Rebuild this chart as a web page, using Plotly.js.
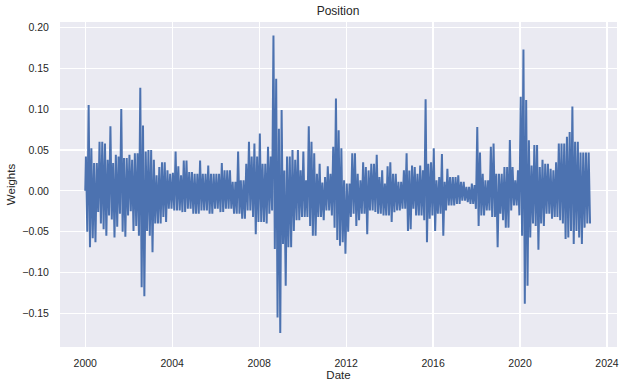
<!DOCTYPE html>
<html><head><meta charset="utf-8">
<script src="https://cdn.plot.ly/plotly-3.0.1.min.js"></script>
<style>html,body{margin:0;padding:0;background:#fff}</style>
</head><body>
<div id="chart" style="width:626px;height:388px"></div>
<script>
// Envelope of the daily position series,
// one high and one low per 1/8 year, starting 2000.0
const startYear = 2000;
const periodsPerYear = 8;
const highs = [
  0.042,0.105,0.052,0.034,0.034,0.060,0.060,0.058, // 2000
  0.038,0.079,0.034,0.044,0.042,0.100,0.040,0.040, // 2001
  0.044,0.038,0.046,0.046,0.126,0.080,0.048,0.050, // 2002
  0.050,0.038,0.019,0.029,0.035,0.035,0.025,0.021, // 2003
  0.022,0.048,0.030,0.019,0.037,0.037,0.023,0.023, // 2004
  0.021,0.021,0.037,0.021,0.021,0.031,0.021,0.021, // 2005
  0.021,0.021,0.034,0.025,0.025,0.025,0.011,0.011, // 2006
  0.048,0.013,0.013,0.033,0.060,0.042,0.058,0.042, // 2007
  0.070,0.033,0.033,0.054,0.042,0.190,0.137,0.076, // 2008
  0.099,0.025,0.042,0.042,0.050,0.038,0.050,0.025, // 2009
  0.048,0.013,0.079,0.060,0.046,0.021,0.033,0.010, // 2010
  0.017,0.030,0.021,0.054,0.113,0.074,0.052,0.013, // 2011
  0.009,0.009,0.046,0.046,0.021,0.013,0.035,0.029, // 2012
  0.025,0.033,0.033,0.044,0.017,0.025,0.009,0.030, // 2013
  0.035,0.021,0.021,0.011,0.011,0.025,0.046,0.025, // 2014
  0.031,0.029,0.021,0.031,0.025,0.112,0.033,0.035, // 2015
  0.052,0.013,0.017,0.045,0.011,0.027,0.017,0.017, // 2016
  0.017,0.019,0.011,0.011,0.005,0.005,0.009,0.007, // 2017
  0.078,0.047,0.021,0.013,0.013,0.054,0.058,0.021, // 2018
  0.021,0.021,0.029,0.029,0.062,0.029,0.013,0.025, // 2019
  0.115,0.173,0.111,0.062,0.031,0.056,0.056,0.029, // 2020
  0.038,0.033,0.033,0.027,0.025,0.035,0.058,0.058, // 2021
  0.058,0.066,0.072,0.103,0.060,0.060,0.047,0.047, // 2022
  0.047,0.047                                      // 2023
];
const lows = [
  -0.050,-0.069,-0.058,-0.063,-0.026,-0.040,-0.047,-0.055, // 2000
  -0.030,-0.035,-0.057,-0.044,-0.028,-0.050,-0.056,-0.030, // 2001
  -0.025,-0.049,-0.043,-0.055,-0.118,-0.129,-0.049,-0.055, // 2002
  -0.075,-0.040,-0.040,-0.040,-0.032,-0.038,-0.022,-0.022, // 2003
  -0.024,-0.024,-0.024,-0.026,-0.026,-0.022,-0.022,-0.028, // 2004
  -0.028,-0.028,-0.024,-0.024,-0.024,-0.028,-0.028,-0.022, // 2005
  -0.022,-0.026,-0.026,-0.022,-0.022,-0.022,-0.028,-0.028, // 2006
  -0.028,-0.034,-0.034,-0.024,-0.024,-0.032,-0.053,-0.038, // 2007
  -0.038,-0.038,-0.040,-0.028,-0.024,-0.071,-0.155,-0.174, // 2008
  -0.065,-0.116,-0.069,-0.069,-0.049,-0.036,-0.036,-0.032, // 2009
  -0.032,-0.032,-0.043,-0.055,-0.055,-0.032,-0.032,-0.036, // 2010
  -0.024,-0.024,-0.030,-0.045,-0.060,-0.067,-0.063,-0.077, // 2011
  -0.050,-0.032,-0.028,-0.043,-0.036,-0.028,-0.028,-0.053, // 2012
  -0.024,-0.024,-0.026,-0.028,-0.028,-0.030,-0.030,-0.030, // 2013
  -0.038,-0.026,-0.024,-0.024,-0.022,-0.022,-0.049,-0.047, // 2014
  -0.022,-0.030,-0.030,-0.030,-0.036,-0.063,-0.034,-0.030, // 2015
  -0.049,-0.028,-0.028,-0.055,-0.024,-0.018,-0.018,-0.018, // 2016
  -0.016,-0.016,-0.012,-0.012,-0.014,-0.016,-0.016,-0.022, // 2017
  -0.043,-0.030,-0.030,-0.024,-0.024,-0.032,-0.032,-0.069, // 2018
  -0.028,-0.036,-0.045,-0.045,-0.024,-0.018,-0.018,-0.030, // 2019
  -0.055,-0.138,-0.116,-0.057,-0.040,-0.043,-0.072,-0.040, // 2020
  -0.043,-0.028,-0.028,-0.034,-0.032,-0.032,-0.036,-0.040, // 2021
  -0.059,-0.057,-0.049,-0.065,-0.049,-0.057,-0.065,-0.045, // 2022
  -0.040,-0.040                                            // 2023
];
const yTickVals = [-0.15,-0.10,-0.05,0.00,0.05,0.10,0.15,0.20];

function toDate(fy){
  const y = Math.floor(fy);
  const a = Date.UTC(y,0,1), b = Date.UTC(y+1,0,1);
  return new Date(a + (fy - y) * (b - a)).toISOString().slice(0,19);
}

const xs = [], ys = [];
xs.push(toDate(startYear)); ys.push(0.0);
for (let k = 0; k < highs.length; k++) {
  const t = startYear + k / periodsPerYear;
  xs.push(toDate(t + 0.25 / periodsPerYear)); ys.push(highs[k]);
  xs.push(toDate(t + 0.75 / periodsPerYear)); ys.push(lows[k]);
}

const txt = '#262626';
const font = 'Liberation Sans, Arial, sans-serif';
Plotly.newPlot('chart', [{
  x: xs, y: ys, type: 'scatter', mode: 'lines',
  line: {color: '#4C72B0', width: 2}, hoverinfo: 'skip'
}], {
  width: 626, height: 388,
  margin: {l: 60, r: 9, t: 22, b: 41},
  paper_bgcolor: '#ffffff', plot_bgcolor: '#EAEAF2',
  font: {family: font, color: txt, size: 10.5},
  showlegend: false,
  title: {text: 'Position', font: {size: 12, color: txt}, x: 0.54, xanchor: 'center', y: 0.971, yanchor: 'middle'},
  xaxis: {
    type: 'date', range: ['1998-11-03', '2024-06-17'],
    tick0: '2000-01-01', dtick: 'M48', tickformat: '%Y',
    showgrid: true, gridcolor: '#ffffff', gridwidth: 1.2,
    zeroline: false, showline: false,
    ticks: 'outside', ticklen: 6, tickcolor: 'rgba(0,0,0,0)',
    tickfont: {size: 10.5, color: txt},
    title: {text: 'Date', font: {size: 11.5, color: txt}, standoff: 2}
  },
  yaxis: {
    range: [-0.191, 0.2065], tickvals: yTickVals, tickformat: '.2f',
    showgrid: true, gridcolor: '#ffffff', gridwidth: 1.2,
    zeroline: false, showline: false,
    ticks: 'outside', ticklen: 8, tickcolor: 'rgba(0,0,0,0)',
    tickfont: {size: 10.5, color: txt},
    title: {text: 'Weights', font: {size: 11.5, color: txt}, standoff: 4}
  }
}, {staticPlot: true, displayModeBar: false});
</script>
</body></html>
